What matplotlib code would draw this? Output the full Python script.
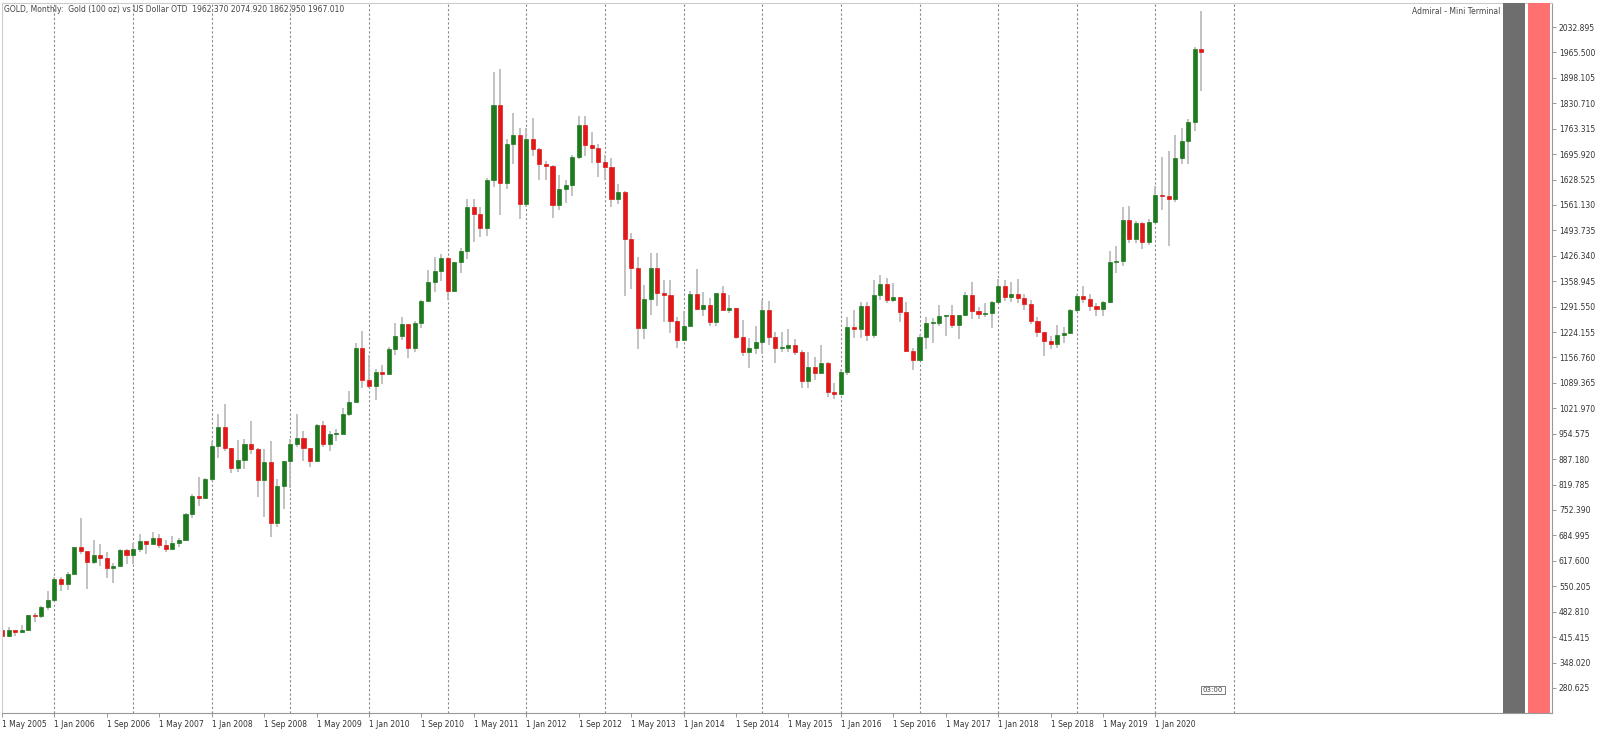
import matplotlib
matplotlib.use("Agg")
import matplotlib.pyplot as plt
from matplotlib.patches import Rectangle
import numpy as np

# Monthly OHLC, May 2005 .. Aug 2020
closes = [417,435,429,433,473,470,495,513,
 569,557,583,654,643,614,633,624,599,604,646,632,
 650,669,663,679,659,650,665,672,743,789,783,834,
 923,972,916,865,886,928,913,833,880,718,816,882,
 927,942,916,883,979,926,955,955,1008,1040,1182,1096,
 1081,1118,1113,1179,1213,1245,1181,1248,1307,1358,1385,1421,
 1333,1410,1439,1556,1536,1500,1628,1826,1620,1722,1746,1564,
 1737,1710,1669,1664,1561,1604,1614,1687,1773,1719,1711,1675,
 1663,1578,1595,1472,1393,1234,1313,1395,1327,1323,1253,1202,
 1240,1326,1284,1296,1250,1327,1282,1287,1210,1171,1182,1199,
 1283,1212,1183,1183,1190,1172,1095,1132,1115,1142,1065,1061,
 1118,1238,1233,1293,1215,1322,1351,1309,1316,1277,1173,1151,
 1211,1249,1249,1268,1269,1242,1269,1322,1280,1271,1275,1303,
 1345,1318,1325,1315,1299,1253,1224,1201,1192,1215,1222,1282,
 1321,1313,1292,1284,1305,1409,1413,1520,1472,1513,1464,1517,
 1587,1585,1577,1686,1730,1781,1975,1967]
opens = [435] + closes[:-1]
highs = [439,443,431,447,474,478,498,538,
 575,574,588,654,732,632,674,663,640,611,650,648,
 665,690,671,693,690,672,683,678,745,795,841,836,
 935,1006,1033,918,937,940,988,917,913,935,835,882,
 940,1006,963,914,980,989,961,966,1023,1069,1195,1227,
 1162,1126,1136,1184,1249,1265,1206,1253,1310,1388,1424,1431,
 1424,1411,1447,1577,1577,1556,1632,1913,1921,1736,1804,1764,
 1764,1792,1712,1677,1666,1640,1626,1694,1796,1798,1755,1723,
 1694,1685,1616,1598,1487,1424,1348,1434,1434,1362,1362,1265,
 1280,1332,1392,1331,1315,1326,1345,1323,1288,1256,1208,1239,
 1308,1307,1223,1224,1232,1205,1176,1170,1158,1191,1144,1088,
 1126,1263,1283,1304,1304,1362,1375,1367,1353,1313,1304,1183,
 1220,1264,1261,1295,1270,1296,1270,1330,1357,1290,1300,1307,
 1366,1361,1356,1366,1326,1309,1265,1220,1214,1243,1238,1284,
 1326,1347,1324,1300,1306,1439,1453,1555,1557,1519,1516,1525,
 1611,1689,1704,1747,1765,1789,1981,2075]
lows = [414,415,418,427,432,456,467,488,
 513,538,539,583,637,543,610,603,573,560,603,609,
 608,642,636,662,652,642,650,655,671,732,763,781,
 830,889,908,850,854,862,900,786,734,681,708,754,
 810,919,882,866,883,920,908,935,989,1002,1042,1075,
 1076,1045,1087,1115,1164,1203,1155,1172,1236,1316,1331,1360,
 1308,1330,1381,1419,1462,1477,1478,1610,1535,1603,1670,1523,
 1555,1690,1628,1628,1527,1548,1565,1585,1684,1692,1672,1635,
 1626,1555,1563,1321,1338,1180,1206,1270,1292,1251,1221,1182,
 1203,1239,1282,1268,1241,1240,1283,1275,1207,1161,1130,1167,
 1167,1190,1142,1170,1170,1162,1077,1077,1098,1136,1052,1046,
 1061,1110,1208,1209,1200,1208,1310,1301,1305,1252,1171,1123,
 1147,1180,1195,1240,1214,1236,1205,1267,1260,1260,1264,1236,
 1302,1307,1303,1302,1282,1245,1210,1160,1180,1182,1196,1221,
 1276,1302,1281,1266,1267,1300,1380,1400,1459,1460,1445,1454,
 1517,1547,1451,1568,1670,1671,1757,1863]

month_names = ["Jan","Feb","Mar","Apr","May","Jun","Jul","Aug","Sep","Oct","Nov","Dec"]
y_ticks = [280.625 + 67.395*k for k in range(27)]
title_text = "GOLD, Monthly:  Gold (100 oz) vs US Dollar OTD  1962.370 2074.920 1862.950 1967.010"

W, H = 1600, 729
fig = plt.figure(figsize=(16, 7.29), dpi=100)
fig.patch.set_facecolor("white")
ax_l, ax_r, ax_t, ax_b = 2, 1552, 3, 713
ax = fig.add_axes([ax_l/W, 1-ax_b/H, (ax_r-ax_l)/W, (ax_b-ax_t)/H])

px_per_month = 6.56
def px2i(px):
    return 8 + (px - 53)/px_per_month
ax.set_xlim(px2i(ax_l), px2i(ax_r))
ppp = 67.395/25.42
ax.set_ylim(2032.898 - (ax_b-27)*ppp, 2032.898 + (27-ax_t)*ppp)

n = len(closes)
idx = np.arange(n)
# yearly grid
for i in range(8, 200, 12):
    ax.axvline(i, color="#888888", lw=0.8, ls=(0, (2, 2)), zorder=0)

bw = 0.62
for i in idx:
    o, h, l, c = opens[i], highs[i], lows[i], closes[i]
    ax.vlines(i, l, h, color="#b8b8b8", lw=1.2, zorder=1)
    col = "#1f7a1f" if c >= o else "#e01818"
    ax.add_patch(Rectangle((i-bw/2, min(o, c)), bw, max(abs(c-o), 1.5),
                           facecolor=col, edgecolor=col, lw=0.5, zorder=2))

ax.yaxis.tick_right()
ax.set_yticks(y_ticks)
ax.set_yticklabels([f"{v:.3f}" for v in y_ticks], fontsize=5.5, color="#333333")
xt = list(range(0, n, 8))
ax.set_xticks(xt)
labs = []
for i in xt:
    y = 2005 + (4 + i)//12
    m = (4 + i) % 12
    labs.append(f"1 {month_names[m]} {y}")
ax.set_xticklabels(labs, fontsize=5.5, color="#333333", ha="left")
ax.tick_params(axis="both", length=3, width=0.6, color="#888888", pad=2)
for s in ["top", "left"]:
    ax.spines[s].set_color("#cccccc")
ax.spines["bottom"].set_color("#999999")
ax.spines["right"].set_color("#999999")

# side panels
fig.patches.append(Rectangle((1503/W, 1-713/H), 22/W, 710/H, transform=fig.transFigure,
                             facecolor="#6e6e6e", edgecolor="none", zorder=5))
fig.patches.append(Rectangle((1528/W, 1-713/H), 22/W, 710/H, transform=fig.transFigure,
                             facecolor="#ff7070", edgecolor="none", zorder=5))

fig.text(4/W, 1-9/H, title_text, fontsize=5.5, color="#444444", va="center")
fig.text(1500/W, 1-11/H, "Admiral - Mini Terminal", fontsize=5.5, color="#444444",
         va="center", ha="right")
fig.text(1213/W, 1-690/H, "03:00", fontsize=5, color="#444444", va="center", ha="center",
         bbox=dict(boxstyle="square,pad=0.2", fc="white", ec="#666666", lw=0.6))

fig.savefig("out.png", dpi=100)
